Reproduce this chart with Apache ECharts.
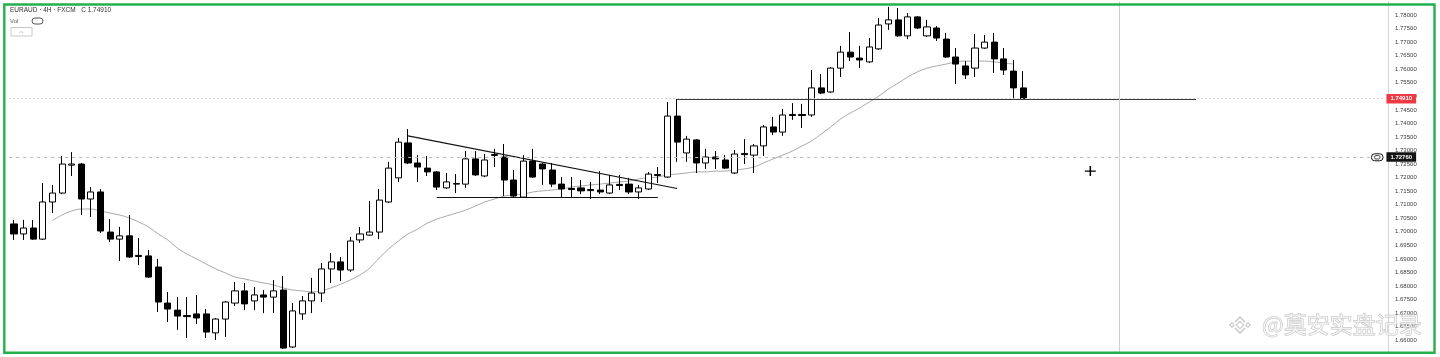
<!DOCTYPE html>
<html>
<head>
<meta charset="utf-8">
<script src="https://cdn.jsdelivr.net/npm/echarts@6.0.0/dist/echarts.min.js"></script>
<style>
html,body{margin:0;padding:0;background:#fff;}
#chart{width:1440px;height:357px;}
</style>
</head>
<body>
<div id="chart"></div>
<script>
// ---- data ----
const slotCount = 143; // candle slots on the time axis, incl. empty space on the right
const opens = [
1.7029,1.6992,1.7014,1.6973,1.7110,1.7143,1.7246,1.7250,1.7121,1.7147,
1.6999,1.6973,1.6985,1.6913,1.6911,1.6870,1.6737,1.6711,1.6691,1.6697,
1.6697,1.6627,1.6678,1.6737,1.6782,1.6745,1.6767,1.6759,1.6785,1.6575,
1.6697,1.6745,1.6774,1.6863,1.6889,1.6859,1.6970,1.6988,1.6999,1.7110,
1.7199,1.7328,1.7254,1.7235,1.7221,1.7162,1.7178,1.7176,1.7269,1.7206,
1.7285,1.7276,1.7191,1.7128,1.7261,1.7250,1.7228,1.7176,1.7160,1.7162,
1.7156,1.7154,1.7143,1.7175,1.7176,1.7147,1.7158,1.7211,1.7202,1.7427,
1.7291,1.7339,1.7254,1.7276,1.7265,1.7217,1.7289,1.7283,1.7317,1.7387,
1.7368,1.7433,1.7433,1.7431,1.7531,1.7516,1.7604,1.7663,1.7641,1.7627,
1.7675,1.7767,1.7782,1.7723,1.7793,1.7723,1.7752,1.7711,1.7645,1.7612,
1.7604,1.7678,1.7700,1.7638,1.7593,1.7531
];
const closes = [
1.6992,1.7014,1.6973,1.7110,1.7143,1.7250,1.7250,1.7121,1.7147,1.7003,
1.6973,1.6985,1.6907,1.6909,1.6833,1.6741,1.6715,1.6689,1.6687,1.6682,
1.6630,1.6678,1.6741,1.6782,1.6734,1.6767,1.6759,1.6782,1.6571,1.6708,
1.6745,1.6774,1.6863,1.6889,1.6859,1.6966,1.6992,1.6999,1.7117,1.7235,
1.7331,1.7254,1.7239,1.7221,1.7165,1.7184,1.7176,1.7269,1.7210,1.7265,
1.7282,1.7191,1.7132,1.7261,1.7202,1.7232,1.7176,1.7158,1.7156,1.7151,
1.7152,1.7147,1.7173,1.7171,1.7147,1.7162,1.7213,1.7208,1.7427,1.7331,
1.7342,1.7254,1.7276,1.7269,1.7235,1.7287,1.7285,1.7317,1.7387,1.7368,
1.7431,1.7429,1.7429,1.7531,1.7512,1.7604,1.7663,1.7645,1.7634,1.7682,
1.7763,1.7782,1.7723,1.7793,1.7752,1.7756,1.7715,1.7645,1.7619,1.7579,
1.7678,1.7700,1.7638,1.7597,1.7531,1.7491
];
const lows = [
1.6970,1.6970,1.6970,1.6970,1.7069,1.7139,1.7206,1.7062,1.7055,1.6996,
1.6962,1.6892,1.6903,1.6877,1.6830,1.6704,1.6667,1.6638,1.6608,1.6660,
1.6608,1.6601,1.6612,1.6726,1.6711,1.6711,1.6700,1.6700,1.6568,1.6571,
1.6675,1.6700,1.6741,1.6811,1.6818,1.6852,1.6959,1.6985,1.6973,1.7106,
1.7184,1.7250,1.7184,1.7206,1.7154,1.7158,1.7143,1.7162,1.7206,1.7202,
1.7239,1.7132,1.7128,1.7125,1.7199,1.7173,1.7165,1.7128,1.7128,1.7139,
1.7121,1.7139,1.7139,1.7154,1.7139,1.7121,1.7154,1.7180,1.7199,1.7258,
1.7258,1.7217,1.7232,1.7232,1.7232,1.7213,1.7250,1.7217,1.7280,1.7357,
1.7354,1.7413,1.7383,1.7424,1.7508,1.7512,1.7571,1.7630,1.7604,1.7623,
1.7671,1.7745,1.7719,1.7711,1.7748,1.7719,1.7704,1.7641,1.7545,1.7564,
1.7571,1.7675,1.7586,1.7579,1.7490,1.7486
];
const highs = [
1.7044,1.7044,1.7044,1.7180,1.7173,1.7280,1.7294,1.7254,1.7165,1.7158,
1.7047,1.7018,1.7062,1.6977,1.6933,1.6900,1.6778,1.6759,1.6759,1.6767,
1.6715,1.6682,1.6745,1.6815,1.6811,1.6796,1.6785,1.6822,1.6837,1.6737,
1.6763,1.6830,1.6885,1.6922,1.6907,1.6981,1.7018,1.7114,1.7158,1.7258,
1.7346,1.7379,1.7283,1.7280,1.7224,1.7217,1.7213,1.7298,1.7298,1.7287,
1.7306,1.7324,1.7228,1.7283,1.7306,1.7254,1.7254,1.7202,1.7202,1.7191,
1.7184,1.7224,1.7210,1.7210,1.7199,1.7173,1.7221,1.7239,1.7479,1.7490,
1.7354,1.7342,1.7306,1.7298,1.7283,1.7302,1.7342,1.7324,1.7394,1.7424,
1.7453,1.7475,1.7472,1.7597,1.7582,1.7608,1.7686,1.7737,1.7686,1.7715,
1.7789,1.7830,1.7826,1.7807,1.7796,1.7782,1.7759,1.7734,1.7678,1.7630,
1.7730,1.7726,1.7734,1.7678,1.7634,1.7593
];
const maValues = [
null,null,null,null,1.7042,1.7062,1.7077,1.7084,1.7084,1.7077,
1.7069,1.7062,1.7051,1.7036,1.7018,1.6992,1.6970,1.6940,1.6918,1.6900,
1.6881,1.6863,1.6848,1.6833,1.6826,1.6818,1.6811,1.6804,1.6793,1.6785,
1.6782,1.6778,1.6782,1.6793,1.6807,1.6822,1.6841,1.6866,1.6903,1.6937,
1.6966,1.6992,1.7010,1.7032,1.7047,1.7058,1.7069,1.7080,1.7095,1.7110,
1.7121,1.7132,1.7136,1.7139,1.7147,1.7151,1.7154,1.7158,1.7165,1.7169,
1.7173,1.7176,1.7180,1.7184,1.7187,1.7195,1.7199,1.7202,1.7210,1.7213,
1.7217,1.7221,1.7221,1.7224,1.7224,1.7228,1.7232,1.7239,1.7254,1.7269,
1.7283,1.7298,1.7317,1.7335,1.7361,1.7387,1.7416,1.7438,1.7457,1.7479,
1.7501,1.7527,1.7549,1.7571,1.7590,1.7604,1.7612,1.7619,1.7627,1.7630,
1.7630,1.7630,1.7627,1.7623,1.7619,null
];
const trendLine = [[41, 1.7354], [69, 1.7160]];
const supportLine = [[44, 1.7128], [67, 1.7128]];
const resistanceLine = [[69, 1.7490], [123, 1.7490]];
const crosshairIndex = 115;
const crosshairPrice = 1.7276;
const cursorPoint = [112, 1.7224];
const priceMin = 1.655, priceMax = 1.785, priceStep = 0.005;
const headerText = 'EURAUD · 4H · FXCM   C 1.74910';
const watermarkText = '@莫安实盘记录';

// ---- chart ----
const categories = Array.from({length: slotCount}, (_, i) => String(i));
const candles = opens.map((o, i) => [o, closes[i], lows[i], highs[i]]);
const lastPrice = closes[closes.length - 1];

const chart = echarts.init(document.getElementById('chart'), null, {renderer: 'canvas'});
const axisFont = 'Liberation Sans, Arial, sans-serif';

chart.setOption({
  animation: false,
  backgroundColor: '#ffffff',
  grid: {left: 9.2, top: 1.45, width: 1374.23, height: 352.3, containLabel: false},
  xAxis: {
    type: 'category', data: categories, boundaryGap: true, show: false
  },
  yAxis: {
    type: 'value', position: 'right', min: priceMin, max: priceMax, interval: priceStep,
    offset: 4.6, scale: true,
    axisLine: {show: true, lineStyle: {color: '#d4d4d4', width: 1}},
    axisTick: {show: false},
    splitLine: {show: false},
    axisLabel: {
      margin: 7, color: '#3a3a3a', fontSize: 6, fontFamily: axisFont,
      showMinLabel: false, showMaxLabel: false,
      formatter: v => v.toFixed(5)
    }
  },
  series: [
    {
      type: 'line', data: maValues, showSymbol: false, smooth: 0.3, silent: true,
      lineStyle: {color: '#a9a9a9', width: 1}, z: 1
    },
    {
      type: 'candlestick', data: candles, barWidth: 6.6, silent: true, z: 3,
      itemStyle: {color: '#ffffff', color0: '#000000', borderColor: '#000000', borderColor0: '#000000', borderWidth: 1},
      markLine: {
        silent: true, symbol: ['none', 'none'], animation: false, precision: 5,
        label: {show: false},
        data: [
          [{coord: [String(trendLine[0][0]), trendLine[0][1]], lineStyle: {color: '#111', width: 1.1, type: 'solid'}},
           {coord: [String(trendLine[1][0]), trendLine[1][1]]}],
          [{coord: [String(supportLine[0][0]), supportLine[0][1]], lineStyle: {color: '#111', width: 1.1, type: 'solid'}},
           {coord: [String(supportLine[1][0]), supportLine[1][1]]}],
          [{coord: [String(resistanceLine[0][0]), resistanceLine[0][1]], lineStyle: {color: '#3c3c3c', width: 1.1, type: 'solid'}},
           {coord: [String(resistanceLine[1][0]), resistanceLine[1][1]]}],
          {
            yAxis: lastPrice,
            lineStyle: {color: '#d0d0d0', width: 1, type: [2, 2]},
            label: {
              show: true, position: 'end', distance: 3, formatter: lastPrice.toFixed(5),
              backgroundColor: '#ee3a44', color: '#fff', fontSize: 6, fontWeight: 'bold',
              fontFamily: axisFont, padding: [2, 4, 1.5, 4]
            }
          },
          {
            yAxis: crosshairPrice,
            lineStyle: {color: '#b9b9b9', width: 1, type: [3, 4]},
            label: {
              show: true, position: 'end', distance: 3, formatter: crosshairPrice.toFixed(5),
              backgroundColor: '#141414', color: '#fff', fontSize: 6, fontWeight: 'bold',
              fontFamily: axisFont, padding: [2, 4, 1.5, 4]
            }
          },
          {
            xAxis: String(crosshairIndex),
            lineStyle: {color: '#cfcfcf', width: 1, type: 'solid'}
          }
        ]
      }
    },
    {
      type: 'scatter', silent: true, z: 10,
      data: [[String(cursorPoint[0]), cursorPoint[1]]],
      symbol: 'path://M0,4.3H10V5.7H0Z M4.3,0H5.7V10H4.3Z',
      symbolSize: [11, 10],
      itemStyle: {color: '#000', opacity: 1}
    }
  ],
  graphic: [
    // header texts (top left)
    {type: 'text', left: 10, top: 7, z: 20, silent: true,
     style: {text: headerText, fontSize: 6.5, fill: '#333', fontFamily: axisFont}},
    {type: 'text', left: 10, top: 18, z: 20, silent: true,
     style: {text: 'Vol', fontSize: 6, fill: '#555', fontFamily: axisFont}},
    {type: 'rect', z: 20, silent: true, shape: {x: 32, y: 18, width: 11, height: 6, r: 3},
     style: {fill: '#fff', stroke: '#555', lineWidth: 1}},
    {type: 'rect', z: 20, silent: true, shape: {x: 11, y: 27.5, width: 21, height: 8.5},
     style: {fill: '#fff', stroke: '#c8c8c8', lineWidth: 1}},
    {type: 'text', z: 21, silent: true, x: 19, y: 29,
     style: {text: '︿', fontSize: 5, fill: '#555'}},
    // small icon left of crosshair price label
    {type: 'rect', z: 20, silent: true, shape: {x: 1371.5, y: 153.8, width: 11.5, height: 7, r: 3.2},
     style: {fill: '#fff', stroke: '#111', lineWidth: 1}},
    {type: 'rect', z: 21, silent: true, shape: {x: 1374.5, y: 155.6, width: 5.5, height: 3.4, r: 1.5},
     style: {fill: 'none', stroke: '#111', lineWidth: 0.8}},
    // watermark logo
    {type: 'group', z: 30, silent: true, x: 1240, y: 325, children: [
      {type: 'rect', rotation: Math.PI / 4, shape: {x: -2.6, y: -2.6, width: 5.2, height: 5.2},
       style: {fill: 'rgba(255,255,255,0.7)', stroke: '#c4c4c4', lineWidth: 1}},
      {type: 'polyline', shape: {points: [[-5, -3], [0, -8], [5, -3]]}, style: {stroke: '#c4c4c4', lineWidth: 1.4, fill: 'none'}},
      {type: 'polyline', shape: {points: [[-5, 3], [0, 8], [5, 3]]}, style: {stroke: '#c4c4c4', lineWidth: 1.4, fill: 'none'}},
      {type: 'rect', rotation: Math.PI / 4, x: -8, shape: {x: -1.6, y: -1.6, width: 3.2, height: 3.2},
       style: {fill: 'none', stroke: '#c4c4c4', lineWidth: 1}},
      {type: 'rect', rotation: Math.PI / 4, x: 8, shape: {x: -1.6, y: -1.6, width: 3.2, height: 3.2},
       style: {fill: 'none', stroke: '#c4c4c4', lineWidth: 1}}
    ]},
    {type: 'text', z: 30, silent: true, x: 1262, y: 313,
     style: {text: watermarkText, fontSize: 23, fontFamily: 'Noto Sans CJK SC, sans-serif',
             fill: 'rgba(255,255,255,0.55)', stroke: '#c2c2c2', lineWidth: 0.9}},
    // green frame
    {type: 'rect', z: 40, silent: true, shape: {x: 4.3, y: 4.5, width: 1430.2, height: 348.3},
     style: {fill: 'none', stroke: '#25b04e', lineWidth: 2.4}}
  ]
});
</script>
</body>
</html>
